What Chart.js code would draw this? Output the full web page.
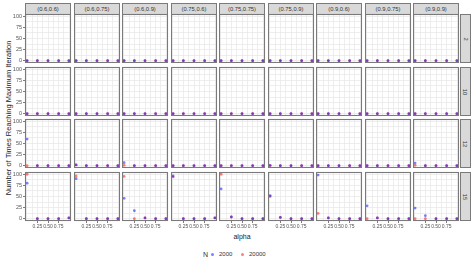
<!DOCTYPE html>
<html lang="en">
<head>
<meta charset="UTF-8">
<title>Max Iteration Facets</title>
<script src="https://cdn.jsdelivr.net/npm/chart.js"></script>
<style>
  body { margin: 0; background: #fff; }
  #wrap { position: relative; width: 474px; height: 268px; overflow: hidden; font-family: "Liberation Sans", Arial, sans-serif; }
  #wrap canvas { position: absolute; }
  .strip { position: absolute; box-sizing: border-box; background: #d9d9d9; border: 1px solid #7a7a7a; color: #333; font-size: 5.8px; display: flex; align-items: center; justify-content: center; white-space: nowrap; }
  .strip.right span { display: block; transform: rotate(90deg); }
  .title { position: absolute; color: #222; font-size: 7px; white-space: nowrap; }
  #ytitle { left: 8px; top: 118px; font-size: 7.5px; transform: translate(-50%, -50%) rotate(-90deg); }
  #xtitle { left: 242px; top: 236px; transform: translate(-50%, -50%); }
  .lg { position: absolute; top: 254px; transform: translateY(-50%); font-size: 6px; color: #333; white-space: nowrap; }
  .dot { position: absolute; top: 254px; width: 3px; height: 3px; margin: -1.5px 0 0 -1.5px; border-radius: 50%; }
</style>
</head>
<body>
<div id="wrap">
  <div class="title" id="ytitle">Number of Times Reaching Maximum Iteration</div>
  <div class="title" id="xtitle">alpha</div>
  <span class="lg" style="left:203px;font-size:7px">N</span>
  <span class="dot" style="left:212px;background:rgba(0,0,255,0.5)"></span>
  <span class="lg" style="left:219px">2000</span>
  <span class="dot" style="left:242px;background:rgba(255,0,0,0.5)"></span>
  <span class="lg" style="left:249px">20000</span>
</div>

<script>
// x values (alpha) shared by every panel
const alphaValues = [0.01, 0.25, 0.5, 0.75, 0.99];

// facet labels
const colLabels = ['(0.6,0.6)', '(0.6,0.75)', '(0.6,0.9)', '(0.75,0.6)', '(0.75,0.75)', '(0.75,0.9)', '(0.9,0.6)', '(0.9,0.75)', '(0.9,0.9)'];
const rowLabels = ['2', '10', '12', '15'];

// tick labels
const xTickValues = [0.25, 0.5, 0.75];
const yTickValues = [0, 25, 50, 75, 100];
// grid lines (major + minor)
const xGridValues = [0, 0.125, 0.25, 0.375, 0.5, 0.625, 0.75, 0.875, 1];
const yGridValues = [0, 12.5, 25, 37.5, 50, 62.5, 75, 87.5, 100];

// N = 2000, one row of panels per array, 5 values per panel
const n2000Row2 = [[0,0,0,0,0],[0,0,0,0,0],[0,0,0,0,0],[0,0,0,0,0],[0,0,0,0,0],[0,0,0,0,0],[0,0,0,0,0],[0,0,0,0,0],[0,0,0,0,0]];
const n2000Row10 = [[0,0,0,0,0],[0,0,0,0,0],[0,0,0,0,0],[0,0,0,0,0],[0,0,0,0,0],[0,0,0,0,0],[0,0,0,0,0],[0,0,0,0,0],[0,0,0,0,0]];
const n2000Row12 = [[60,0,0,0,0],[2,0,0,0,0],[7,0,0,0,0],[0,0,0,0,0],[0,0,0,0,0],[1,0,0,0,0],[0,0,0,0,0],[0,0,0,0,0],[6,0,0,0,0]];
const n2000Row15 = [[80,0,0,0,2],[90,0,0,0,0],[46,18,2,0,0],[96,0,0,0,2],[67,4,0,0,0],[52,3,0,0,0],[98,2,0,0,0],[29,2,0,0,0],[24,7,0,0,0]];

// N = 20000
const n20000Row2 = [[0,0,0,0,0],[0,0,0,0,0],[0,0,0,0,0],[0,0,0,0,0],[0,0,0,0,0],[0,0,0,0,0],[0,0,0,0,0],[0,0,0,0,0],[0,0,0,0,0]];
const n20000Row10 = [[0,0,0,0,0],[0,0,0,0,0],[0,0,0,0,0],[0,0,0,0,0],[0,0,0,0,0],[0,0,0,0,0],[0,0,0,0,0],[0,0,0,0,0],[0,0,0,0,0]];
const n20000Row12 = [[0,0,0,0,0],[2,0,0,0,0],[1,0,0,0,0],[0,0,0,0,0],[0,0,0,0,0],[0,0,0,0,0],[0,0,0,0,0],[0,0,0,0,0],[1,0,0,0,0]];
const n20000Row15 = [[100,0,0,0,2],[96,0,0,0,0],[95,0,2,0,0],[94,0,0,0,2],[100,4,0,0,0],[50,3,0,0,0],[12,2,0,0,0],[0,2,0,0,0],[0,0,0,0,0]];

const n2000 = [n2000Row2, n2000Row10, n2000Row12, n2000Row15];
const n20000 = [n20000Row2, n20000Row10, n20000Row12, n20000Row15];

const BLUE = 'rgba(0,0,255,0.5)';
const RED = 'rgba(255,0,0,0.5)';
const FAMILY = '"Liberation Sans", Arial, sans-serif';

// panel geometry
const PW = 46, PH = 49;
const colLeft = [25, 74, 122, 171, 219, 268, 316, 365, 413];
const rowTop = [14, 67, 119, 172];

const wrap = document.getElementById('wrap');

// ggplot-like box round each panel
const panelBorder = {
    id: 'panelBorder',
    afterDraw(chart) {
        const a = chart.chartArea, g = chart.ctx;
        g.save();
        g.strokeStyle = '#7a7a7a';
        g.lineWidth = 1.1;
        g.strokeRect(a.left + 0.5, a.top + 0.5, a.right - a.left - 1, a.bottom - a.top - 1);
        g.restore();
    }
};

// fixed axis size and no label padding, so every plot area is the same
function fixSize(prop, size) {
    return s => {
        s[prop] = size;
        s.paddingLeft = s.paddingRight = s.paddingTop = s.paddingBottom = 0;
    };
}

function makePanel(r, c) {
    const L = c === 0 ? 24 : 0;
    const B = r === 3 ? 12 : 0;
    const T = 4, R = 2;
    const canvas = document.createElement('canvas');
    canvas.width = L + PW + R;
    canvas.height = T + PH + B;
    canvas.style.left = (colLeft[c] - L) + 'px';
    canvas.style.top = (rowTop[r] - T) + 'px';
    wrap.appendChild(canvas);

    new Chart(canvas, {
        type: 'scatter',
        data: {
            datasets: [
                { label: '2000', data: alphaValues.map((x, i) => ({ x: x, y: n2000[r][c][i] })), backgroundColor: BLUE, borderWidth: 0, pointRadius: 1.4 },
                { label: '20000', data: alphaValues.map((x, i) => ({ x: x, y: n20000[r][c][i] })), backgroundColor: RED, borderWidth: 0, pointRadius: 1.4 }
            ]
        },
        options: {
            responsive: false,
            animation: false,
            events: [],
            layout: { autoPadding: false, padding: { left: 0, top: T, right: R, bottom: 0 } },
            plugins: { legend: { display: false }, tooltip: { enabled: false } },
            scales: {
                x: {
                    type: 'linear', min: -0.04, max: 1.04,
                    afterFit: fixSize('height', B),
                    afterBuildTicks: s => { s.ticks = xGridValues.map(v => ({ value: v })); },
                    border: { display: false },
                    grid: {
                        color: '#e6e6e6', lineWidth: 0.7,
                        drawTicks: B > 0, tickLength: 2,
                        tickColor: ctx => xTickValues.includes(ctx.tick.value) ? '#444' : 'rgba(0,0,0,0)'
                    },
                    ticks: {
                        display: B > 0, autoSkip: false, maxRotation: 0, minRotation: 0, padding: 1,
                        font: { family: FAMILY, size: 5 }, color: '#555',
                        callback: v => xTickValues.includes(v) ? v.toFixed(2) : ''
                    }
                },
                y: {
                    type: 'linear', min: -5, max: 105,
                    afterFit: fixSize('width', L),
                    afterBuildTicks: s => { s.ticks = yGridValues.map(v => ({ value: v })); },
                    border: { display: false },
                    grid: {
                        color: '#e6e6e6', lineWidth: 0.7,
                        drawTicks: L > 0, tickLength: 2,
                        tickColor: ctx => yTickValues.includes(ctx.tick.value) ? '#444' : 'rgba(0,0,0,0)'
                    },
                    ticks: {
                        display: L > 0, autoSkip: false, padding: 1,
                        font: { family: FAMILY, size: 5.5 }, color: '#555',
                        callback: v => yTickValues.includes(v) ? String(v) : ''
                    }
                }
            }
        },
        plugins: [panelBorder]
    });
}

// top strips
colLabels.forEach((lab, c) => {
    const d = document.createElement('div');
    d.className = 'strip';
    d.style.left = colLeft[c] + 'px';
    d.style.top = '3px';
    d.style.width = PW + 'px';
    d.style.height = '12px';
    d.textContent = lab;
    wrap.appendChild(d);
});

// right strips
rowLabels.forEach((lab, r) => {
    const d = document.createElement('div');
    d.className = 'strip right';
    d.style.left = '460px';
    d.style.top = rowTop[r] + 'px';
    d.style.width = '11px';
    d.style.height = PH + 'px';
    d.innerHTML = '<span>' + lab + '</span>';
    wrap.appendChild(d);
});

for (let r = 0; r < rowLabels.length; r++) {
    for (let c = 0; c < colLabels.length; c++) {
        makePanel(r, c);
    }
}
</script>
</body>
</html>
